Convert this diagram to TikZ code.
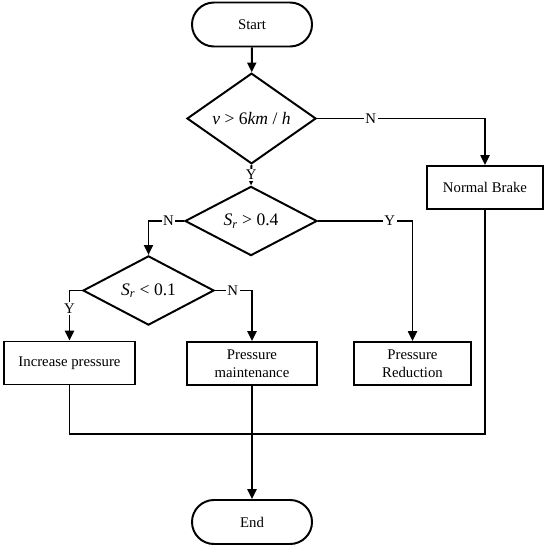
\documentclass[tikz,border=0pt]{standalone}
\usepackage{fontspec}
\setmainfont{Liberation Serif}
\usetikzlibrary{shapes.geometric,arrows.meta}

\begin{document}
\begin{tikzpicture}[x=0.025cm,y=-0.025cm,line width=1.4pt,
       font=\fontsize{10.5}{13}\selectfont,
       term/.style={draw,rounded corners=0.55cm,minimum width=3cm,minimum height=1.1cm},
       proc/.style={draw,minimum height=1.075cm,align=center,inner sep=1pt},
       test/.style={draw,diamond,inner sep=0pt,font=\fontsize{12.5}{15}\selectfont},
       arr/.style={-{Triangle[width=6.4pt,length=7pt]}},
       yn/.style={fill=white,inner sep=1pt}]
       \useasboundingbox (0,0) rectangle (549,550);
       % terminals
       \node[term] (start) at (252,24.5) {Start};
       \node[term] (finish) at (252,522) {End};
       % decisions
       \node[test,minimum width=3.225cm,minimum height=1.775cm] (speed) at (251.5,118.5)
       {\textit{v} > 6\textit{km} / \textit{h}};
       \node[test,minimum width=3.3cm,minimum height=1.3cm] (slip) at (251,221)
       {\textit{S}\textsubscript{\textit{r}} > 0.4};
       \node[test,minimum width=3.275cm,minimum height=1.325cm] (low) at (148.5,290.5)
       {\textit{S}\textsubscript{\textit{r}} < 0.1};
       % actions
       \node[proc,minimum width=2.9cm] (brake) at (485,187.5) {Normal Brake};
       \node[proc,minimum width=3.25cm] (incr) at (69.5,363) {Increase pressure};
       \node[proc,minimum width=3.25cm] (hold) at (252,363.5) {Pressure\\maintenance};
       \node[proc,minimum width=2.925cm] (relief) at (412.5,363.5) {Pressure\\Reduction};
       \coordinate (merge) at (252,434);
       % connectors
       \draw[arr] (start) -- (speed);
       \draw[arr] (speed.east) -| node[yn,pos=0.16] {N} (brake.north);
       \draw[arr] (speed.south) -- node[yn] {Y} (slip.north);
       \draw[arr] (slip.east) -| node[yn,pos=0.38] {Y} (relief.north);
       \draw[arr] (slip.west) -| node[yn,pos=0.22] {N} (low.north);
       \draw[arr] (low.west) -| node[yn,pos=0.68] {Y} (incr.north);
       \draw[arr] (low.east) -| node[yn,pos=0.24] {N} (hold.north);
       \draw (incr.south) |- (merge) -| (brake.south);
       \draw[arr] (hold) -- (finish);
\end{tikzpicture}
\end{document}
